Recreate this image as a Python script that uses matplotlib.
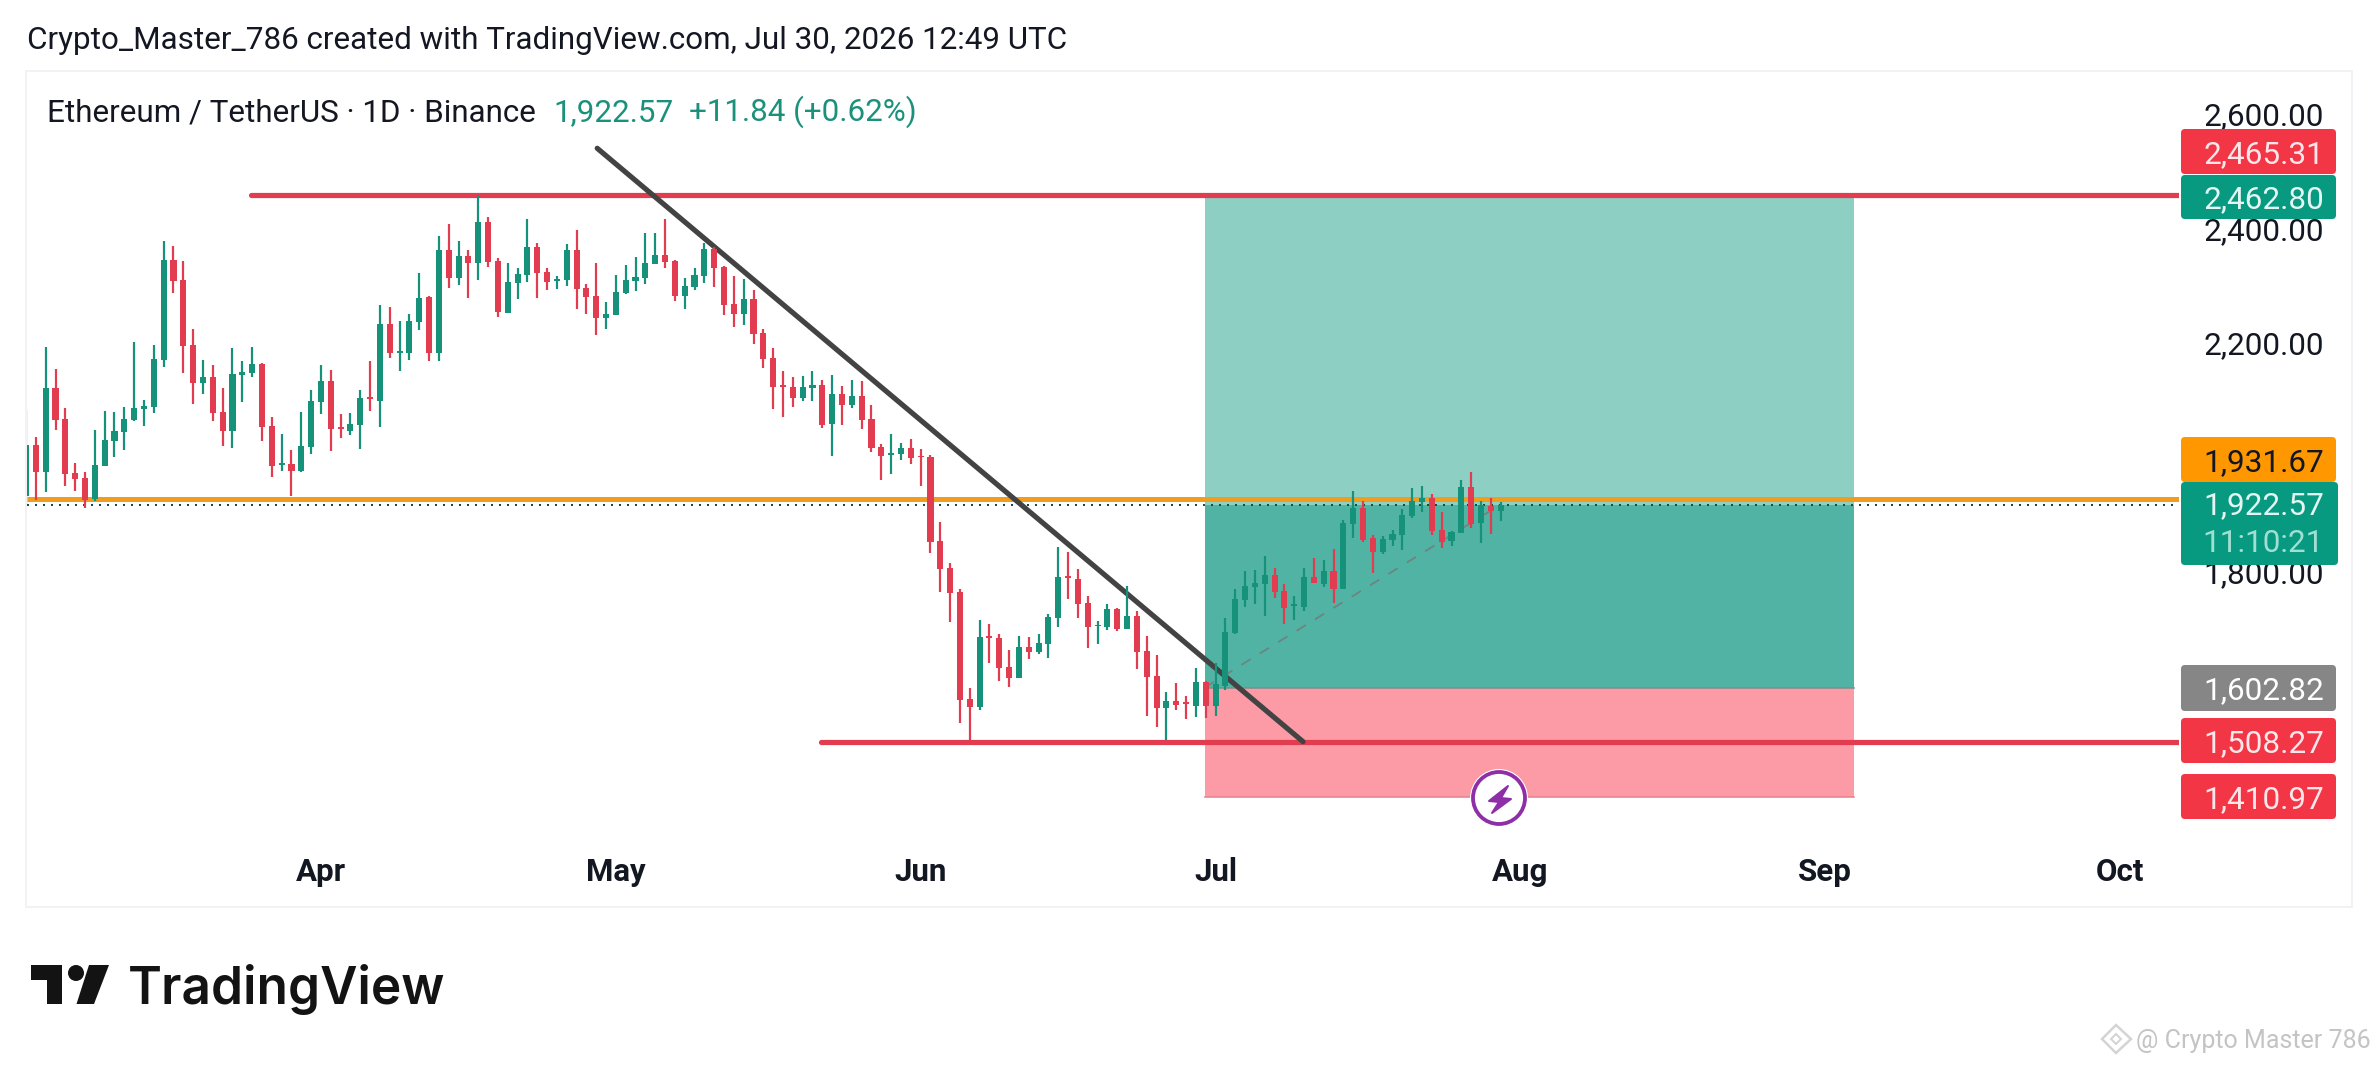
import numpy as np
import matplotlib
matplotlib.use("Agg")
import matplotlib.pyplot as plt
from matplotlib.patches import Circle, FancyBboxPatch, Polygon, Rectangle

plt.rcParams['font.family'] = ['Roboto', 'DejaVu Sans']

# daily candles, day number counted from Apr 1 (first bar is Mar 2)
FIRST_DAY = -30

opens = [1937,2027,1979,2126,2072,1978,1969,1933,1990,2034,
	2049,2070,2089,2093,2175,2350,2315,2201,2135,2145,
	2084,2051,2149,2152,2168,2060,1992,1993,1981,2023,
	2102,2138,2058,2051,2061,2110,2103,2238,2188,2187,
	2241,2285,2187,2367,2318,2357,2344,2416,2348,2258,
	2310,2323,2372,2329,2313,2315,2367,2301,2287,2248,
	2254,2292,2313,2318,2343,2358,2348,2287,2303,2322,
	2369,2337,2273,2255,2282,2222,2179,2131,2128,2109,
	2127,2131,2063,2116,2096,2112,2072,2023,2009,2011,
	2021,2007,2005,1859,1812,1770,1583,1569,1693,1689,
	1639,1620,1674,1665,1679,1724,1798,1793,1751,1710,
	1709,1740,1705,1728,1667,1623,1567,1579,1576,1571,
	1613,1571,1606,1698,1756,1779,1784,1799,1771,1745,
	1744,1796,1784,1806,1775,1889,1916,1864,1840,1861,
	1869,1903,1927,1934,1878,1859,1873,1953,1890,1920,
	1911]
closes = [2027,1979,2126,2070,1976,1967,1930,1992,2035,2051,
	2072,2091,2095,2177,2350,2313,2200,2135,2145,2082,
	2051,2151,2154,2168,2058,1990,1995,1981,2025,2103,
	2138,2054,2054,2063,2109,2107,2238,2187,2191,2243,
	2283,2187,2367,2318,2357,2344,2416,2346,2259,2311,
	2325,2372,2327,2311,2317,2367,2299,2285,2248,2255,
	2294,2315,2320,2344,2358,2346,2287,2304,2323,2369,
	2336,2271,2255,2282,2220,2177,2128,2128,2109,2128,
	2131,2061,2116,2096,2112,2070,2021,2007,2013,2021,
	2004,2005,1858,1810,1768,1581,1569,1691,1690,1637,
	1620,1674,1665,1681,1726,1796,1794,1749,1709,1712,
	1740,1705,1728,1665,1621,1567,1579,1572,1574,1613,
	1571,1609,1700,1757,1780,1785,1799,1770,1742,1747,
	1796,1785,1806,1775,1890,1916,1861,1840,1862,1871,
	1904,1929,1934,1876,1857,1875,1953,1889,1922,1911,
	1922.57]
highs = [2088,2041,2197,2160,2091,1995,1979,2053,2086,2084,
	2093,2206,2105,2201,2383,2374,2348,2230,2175,2166,
	2126,2196,2173,2198,2170,2075,2046,2018,2084,2123,
	2166,2158,2081,2082,2123,2173,2271,2268,2243,2255,
	2327,2287,2392,2413,2383,2367,2463,2425,2353,2344,
	2336,2421,2379,2336,2322,2378,2402,2308,2344,2276,
	2323,2341,2355,2397,2397,2421,2350,2318,2336,2379,
	2373,2339,2322,2317,2297,2229,2196,2156,2145,2147,
	2156,2140,2149,2130,2140,2138,2096,2028,2046,2030,
	2037,2020,2010,1892,1820,1775,1602,1721,1714,1696,
	1668,1693,1691,1696,1731,1848,1840,1810,1763,1719,
	1749,1742,1780,1737,1693,1660,1595,1611,1588,1637,
	1614,1646,1724,1775,1806,1808,1833,1812,1784,1763,
	1812,1829,1826,1845,1895,1946,1929,1869,1868,1878,
	1915,1951,1955,1941,1910,1876,1965,1979,1929,1934,
	1927]
lows = [1919,1930,1944,2053,1955,1946,1916,1928,1990,2006,
	2017,2068,2060,2082,2163,2292,2153,2098,2116,2068,
	2025,2021,2102,2145,2034,1971,1981,1937,1979,2011,
	2081,2016,2039,2044,2020,2086,2058,2179,2156,2175,
	2227,2173,2173,2301,2306,2283,2315,2337,2250,2257,
	2282,2311,2283,2297,2299,2304,2264,2255,2219,2229,
	2254,2290,2296,2308,2343,2336,2278,2264,2297,2310,
	2303,2254,2233,2236,2203,2161,2089,2075,2093,2103,
	2103,2056,2007,2061,2091,2054,2014,1965,1976,2000,
	1993,1955,1838,1770,1717,1541,1511,1564,1646,1614,
	1604,1620,1653,1661,1654,1709,1758,1724,1672,1679,
	1703,1702,1705,1635,1553,1534,1511,1564,1548,1551,
	1550,1553,1598,1696,1744,1749,1728,1759,1714,1721,
	1737,1785,1778,1750,1775,1864,1857,1803,1836,1850,
	1843,1899,1910,1869,1847,1850,1873,1882,1855,1871,
	1894]

month_days = [0, 30, 61, 91, 122, 153, 183]
month_names = ["Apr", "May", "Jun", "Jul", "Aug", "Sep", "Oct"]
price_ticks = [1800, 2200, 2400, 2600]

resist = 2462.80
support = 1508.27
level = 1931.67
last = 1922.57
entry = 1602.82
target = 2465.31
stop = 1410.97

# drawing anchors: day, price
trend_days = [28.1, 99.9]
trend_prices = [2545, 1508.27]
resist_start = -7.1
support_start = 50.9
box_days = [89.9, 155.9]

GREEN = '#16927a'
RED = '#e23c50'
FS = 22.7

W, H = 2378, 1065
fig = plt.figure(figsize=(W / 100, H / 100), dpi=100, facecolor='white')

def px(n):
	return n * 72 / 100

# panel border
ui_back = fig.add_axes([0, 0, 1, 1])
ui_back.set_xlim(0, W)
ui_back.set_ylim(H, 0)
ui_back.axis('off')
ui_back.add_patch(Rectangle((26, 71), 2326, 836, fc='white', ec='#f0f2f5', lw=px(2)))

ax = fig.add_axes([27 / W, 1 - 836 / H, (2179 - 27) / W, (836 - 71) / H])
ax.patch.set_alpha(0)
ax.set_xlim(-29.9, 189.0)
ax.set_ylim(1343.5, 2680)
for s in ax.spines.values():
	s.set_visible(False)

# position tool
bw = box_days[1] - box_days[0]
ax.add_patch(Rectangle((box_days[0], entry), bw, target - entry, fc='#8dd0c3', ec='none', zorder=1))
ax.add_patch(Rectangle((box_days[0], entry), bw, last - entry, fc='#50b3a3', ec='none', zorder=1.1))
ax.add_patch(Rectangle((box_days[0], stop), bw, entry - stop, fc='#fc9ba6', ec='none', zorder=1))
ax.plot(box_days, [entry, entry], color='#7f8f8c', lw=px(1.6), zorder=1.2)
ax.plot(box_days, [stop, stop], color='#e8818e', lw=px(1.6), zorder=1.2)
ax.plot([box_days[0], 120], [entry, last], color='#6f8480', lw=px(1.8), ls=(0, (6, 6)), zorder=1.3)

# levels
ax.plot([-29.9, 189.0], [last, last], color='#14503f', lw=px(2), ls=(0, (1, 3)), zorder=1.4)
ax.plot([-29.9, 189.0], [level, level], color='#f09c1c', lw=px(5), zorder=2, solid_capstyle='butt')
ax.plot([resist_start, 189.0], [resist, resist], color=RED, lw=px(5.2), zorder=2, solid_capstyle='round')
ax.plot([support_start, 189.0], [support, support], color=RED, lw=px(5.2), zorder=2, solid_capstyle='round')
ax.plot(trend_days, trend_prices, color='#434343', lw=px(5.2), zorder=2.5, solid_capstyle='round')

# candles
days = np.arange(FIRST_DAY, FIRST_DAY + len(opens))
opens = np.array(opens, dtype=float)
closes = np.array(closes, dtype=float)
colors = [GREEN if c >= o else RED for o, c in zip(opens, closes)]
ax.vlines(days, lows, highs, colors=colors, lw=px(2.2), zorder=3)
ax.bar(days, np.maximum(np.abs(closes - opens), 3), bottom=np.minimum(opens, closes), width=0.62, color=colors, zorder=3.1)

# axes text
ax.set_xticks(month_days)
ax.set_xticklabels(month_names, fontsize=22.5, fontweight='bold', color='#131722')
ax.set_yticks(price_ticks)
ax.set_yticklabels(["{:,.2f}".format(p) for p in price_ticks], fontsize=FS, color='#131722', ha='right', va='center')
ax.yaxis.tick_right()
ax.tick_params(axis='y', length=0, pad=px(2324 - 2179))
ax.tick_params(axis='x', length=0, pad=px(21))

# overlay in pixels: header, price tags, logo
ui = fig.add_axes([0, 0, 1, 1])
ui.set_xlim(0, W)
ui.set_ylim(H, 0)
ui.axis('off')
ui.patch.set_alpha(0)

ui.text(27, 49, "Crypto_Master_786 created with TradingView.com, Jul 30, 2026 12:49 UTC",
	fontsize=22.6, color='#131722', va='baseline')
ui.text(47, 121, "Ethereum / TetherUS · 1D · Binance", fontsize=22.6, color='#131722', va='baseline')
ui.text(553, 121, "1,922.57", fontsize=22.6, color='#1b917b', va='baseline')
ui.text(689, 121, "+11.84 (+0.62%)", fontsize=22.6, color='#1b917b', va='baseline')

tag_rows = [
	("2,465.31", '#f23645', 129, 174, '#fde7ea'),
	("2,462.80", '#089981', 175, 219, '#e4f6f2'),
	("1,931.67", '#ff9800', 437, 482, '#131722'),
	("1,602.82", '#868686', 665, 711, '#ffffff'),
	("1,508.27", '#f23645', 718, 763, '#fde7ea'),
	("1,410.97", '#f23645', 774, 819, '#fde7ea'),
]
for label, col, top, bot, tc in tag_rows:
	ui.add_patch(FancyBboxPatch((2181, top), 155, bot - top, boxstyle="round,pad=0,rounding_size=4",
		fc=col, ec='none'))
	ui.text(2324, (top + bot) / 2, label, fontsize=FS, color=tc, ha='right', va='center_baseline')

ui.add_patch(FancyBboxPatch((2181, 482), 157, 83, boxstyle="round,pad=0,rounding_size=4", fc='#089981', ec='none'))
ui.text(2324, 503, "1,922.57", fontsize=FS, color='#e4f6f2', ha='right', va='center_baseline')
ui.text(2324, 540, "11:10:21", fontsize=FS, color='#9fe0d2', ha='right', va='center_baseline')

# event marker
ui.add_patch(Circle((1499, 798), 29, fc='white', ec='none'))
ui.add_patch(Circle((1499, 798), 26, fc='white', ec='#8e2fa8', lw=px(3.8)))
ui.add_patch(Polygon([(1508, 786), (1489, 801), (1499, 802), (1492, 813), (1511, 799), (1501, 798)],
	fc='#8e2fa8', ec='#8e2fa8', lw=px(2), joinstyle='round'))

# TradingView logo
ui.add_patch(Polygon([(31, 965), (62, 965), (62, 1004), (47, 1004), (47, 980), (31, 980)], fc='#131313', ec='none'))
ui.add_patch(Circle((76, 973), 8, fc='#131313', ec='none'))
ui.add_patch(Polygon([(89, 965), (109, 965), (94, 1004), (76.5, 1004)], fc='#131313', ec='none'))
ui.text(128, 1004, "TradingView", fontsize=37, fontweight='semibold', family='Inter', color='#131313', va='baseline')

# watermark
ui.text(2371, 1048, "@ Crypto Master 786", fontsize=18, color='#c4c4c4', ha='right', va='baseline')
ui.add_patch(Polygon([(2116, 1025), (2131, 1039), (2116, 1053), (2102, 1039)], fc='none', ec='#d4d4d4', lw=px(2.5)))
ui.add_patch(Polygon([(2116, 1034), (2121, 1039), (2116, 1044), (2111, 1039)], fc='none', ec='#d4d4d4', lw=px(2)))

fig.savefig("out.png", dpi=100, facecolor='white')
